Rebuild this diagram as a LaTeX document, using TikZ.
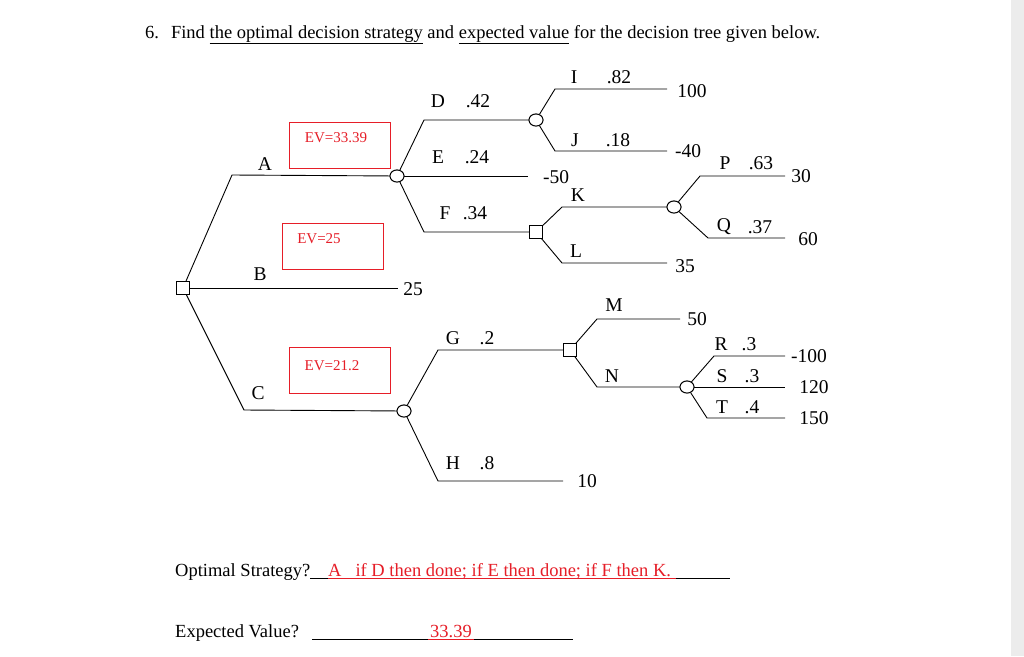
\documentclass[tikz,border=0pt]{standalone}
\usepackage{fontspec}
\setmainfont{Liberation Serif}
\usetikzlibrary{shapes.geometric}
\definecolor{evred}{RGB}{230,30,40}
\begin{document}
\begin{tikzpicture}[x=1pt,y=-1pt,
  lbl/.style={font=\fontsize{19.5}{19.5}\selectfont,inner sep=0pt},
  chance/.style={draw,ellipse,minimum width=14pt,minimum height=12pt,inner sep=0pt,fill=white,line width=0.9pt},
  dec/.style={draw,rectangle,minimum size=13pt,inner sep=0pt,fill=white,line width=0.9pt},
  evbox/.style={draw=evred,minimum width=101pt,minimum height=46pt,inner sep=0pt},
  evtxt/.style={text=evred,font=\fontsize{15}{15}\selectfont,inner sep=0pt},
  ans/.style={anchor=base west,font=\fontsize{18.5}{18.5}\selectfont,inner sep=0pt},
  br/.style={line width=0.9pt}]
\useasboundingbox (0,0) rectangle (1024,656);
\fill[white] (0,0) rectangle (1024,656);
\fill[gray!15] (1011,0) rectangle (1024,656);
% title
\node[anchor=base west,font=\fontsize{18.5}{18.5}\selectfont,inner sep=0pt] (title) at (145,38) {6.\hspace{12pt}Find \underline{the optimal decision strategy} and \underline{expected value} for the decision tree given below.};
% nodes
\node[dec] (root) at (183,288) {};
\node[chance] (cA) at (397,176) {};
\node[chance] (cC) at (404,411) {};
\node[chance] (cD) at (536,120) {};
\node[dec] (sF) at (536,232) {};
\node[chance] (cK) at (674,207) {};
\node[dec] (sG) at (570,350) {};
\node[chance] (cN) at (687,387) {};
\coordinate (eB) at (398,288);
\coordinate (eE) at (528,176);
\coordinate (eI) at (667,89);
\coordinate (eJ) at (667,151);
\coordinate (eL) at (667,263);
\coordinate (eP) at (785,176);
\coordinate (eQ) at (785,238);
\coordinate (eH) at (563,481);
\coordinate (eM) at (680,319);
\coordinate (eR) at (785,356);
\coordinate (eS) at (785,387);
\coordinate (eT) at (785,418);
% branches
\draw[br] (root) -- (232,175) -- (cA);
\draw[br] (root) -- (eB);
\draw[br] (root) -- (244,410) -- (cC);
\draw[br] (cA) -- (424,120) -- (cD);
\draw[br] (cA) -- (eE);
\draw[br] (cA) -- (424,232) -- (sF);
\draw[br] (cD) -- (555,89) -- (eI);
\draw[br] (cD) -- (555,151) -- (eJ);
\draw[br] (sF) -- (562,207) -- (cK);
\draw[br] (sF) -- (562,263) -- (eL);
\draw[br] (cK) -- (700,176) -- (eP);
\draw[br] (cK) -- (708,238) -- (eQ);
\draw[br] (cC) -- (438,350) -- (sG);
\draw[br] (cC) -- (438,481) -- (eH);
\draw[br] (sG) -- (597,319) -- (eM);
\draw[br] (sG) -- (597,387) -- (cN);
\draw[br] (cN) -- (714,356) -- (eR);
\draw[br] (cN) -- (eS);
\draw[br] (cN) -- (707,418) -- (eT);
% redraw shapes on top
\node[dec] at (root) {}; \node[chance] at (cA) {}; \node[chance] at (cC) {};
\node[chance] at (cD) {}; \node[dec] at (sF) {}; \node[chance] at (cK) {};
\node[dec] at (sG) {}; \node[chance] at (cN) {};
% labels
\node[lbl] (lA) at (265,164) {A};
\node[lbl] (lB) at (260,274) {B};
\node[lbl] (lC) at (258,393) {C};
\node[lbl] (lD) at (438,101) {D}; \node[lbl] (pD) at (478,101) {.42};
\node[lbl] (lE) at (438,157) {E}; \node[lbl] (pE) at (477,157) {.24};
\node[lbl] (lF) at (445,213) {F}; \node[lbl] (pF) at (475,213) {.34};
\node[lbl] (vE) at (556,177) {-50};
\node[lbl] (vB) at (413,289) {25};
\node[lbl] (lI) at (574,77) {I}; \node[lbl] (pI) at (619,77) {.82}; \node[lbl] (vI) at (692,91) {100};
\node[lbl] (lJ) at (575,140) {J}; \node[lbl] (pJ) at (618,140) {.18}; \node[lbl] (vJ) at (688,151) {-40};
\node[lbl] (lK) at (578,195) {K};
\node[lbl] (lL) at (576,251) {L}; \node[lbl] (vL) at (685,266) {35};
\node[lbl] (lP) at (725,163) {P}; \node[lbl] (pP) at (761,163) {.63}; \node[lbl] (vP) at (801,176) {30};
\node[lbl] (lQ) at (724,227) {Q}; \node[lbl] (pQ) at (760,227) {.37}; \node[lbl] (vQ) at (808,239) {60};
\node[lbl] (lG) at (453,338) {G}; \node[lbl] (pG) at (487,338) {.2};
\node[lbl] (lH) at (453,463) {H}; \node[lbl] (pH) at (487,463) {.8}; \node[lbl] (vH) at (587,481) {10};
\node[lbl] (lM) at (614,305) {M}; \node[lbl] (vM) at (697,319) {50};
\node[lbl] (lN) at (612,376) {N};
\node[lbl] (lR) at (721,344) {R}; \node[lbl] (pR) at (749,344) {.3}; \node[lbl] (vR) at (809,356) {-100};
\node[lbl] (lS) at (722,376) {S}; \node[lbl] (pS) at (752,376) {.3}; \node[lbl] (vS) at (814,387) {120};
\node[lbl] (lT) at (722,407) {T}; \node[lbl] (pT) at (752,407) {.4}; \node[lbl] (vT) at (814,418) {150};
% EV boxes
\node[evbox] (ev1) at (339.5,145) {};
\node[evtxt] (ev1t) at (336,138) {EV=33.39};
\node[evbox] (ev2) at (332.5,246.5) {};
\node[evtxt] (ev2t) at (319,239) {EV=25};
\node[evbox] (ev3) at (339.5,370.5) {};
\node[evtxt] (ev3t) at (332,366) {EV=21.2};
% answers
\node[ans] (os) at (175,576) {Optimal Strategy?};
\node[ans,text=evred] (osa) at (328,576) {A\hspace{14pt}if D then done; if E then done; if F then K.};
\draw (310,578) -- (328,578);
\draw[evred] (328,578) -- (676,578);
\draw (676,578) -- (730,578);
\node[ans] (ev) at (175,637) {Expected Value?};
\node[ans,text=evred] (eva) at (430,637) {33.39};
\draw (312,639) -- (428,639);
\draw[evred] (428,639) -- (474,639);
\draw (474,639) -- (573,639);
\end{tikzpicture}
\end{document}
